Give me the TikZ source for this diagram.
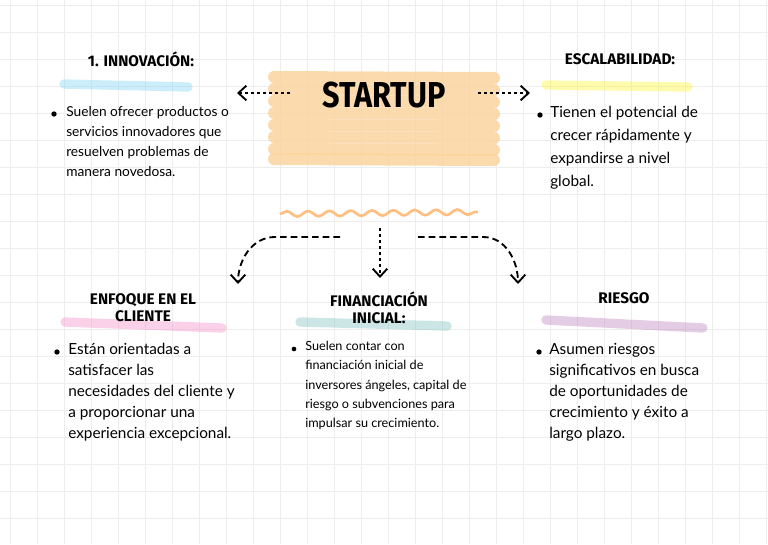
\documentclass[tikz,border=0pt]{standalone}
\usepackage{fontspec}
\setmainfont{Lato}
\newfontfamily\headfont{Fira Sans}
\usetikzlibrary{decorations.pathmorphing,arrows.meta}
\definecolor{brush}{HTML}{FBD39A}
\begin{document}
\begin{tikzpicture}[x=0.75pt,y=-0.75pt,
  head/.style={font=\headfont\bfseries\fontsize{11.5}{13.5}\selectfont,align=center,text=black},
  body/.style={anchor=north west,align=left,inner sep=0pt},
  bul/.style={circle,fill=black,inner sep=0pt,minimum size=4pt},
  hl/.style={line width=7pt,line cap=round,opacity=0.4},
  darr/.style={line width=1.4pt,dash pattern=on 5pt off 3pt,-{Straight Barb[length=6pt,width=11pt,line width=1.4pt]}},
  dotarr/.style={line width=1.4pt,dash pattern=on 2pt off 2.5pt,-{Straight Barb[length=6pt,width=11pt,line width=1.4pt]}}]
\useasboundingbox (0,0) rectangle (768,544);
\fill[white] (0,0) rectangle (768,544);
\foreach \i in {0,...,28} \draw[black!7,line width=0.6pt] (\i*27+10,0) -- (\i*27+10,544);
\foreach \i in {0,...,20} \draw[black!7,line width=0.6pt] (0,\i*27+5) -- (768,\i*27+5);
% startup brush
\foreach \yy in {77,89,101,113,125,137,149,159}
  \draw[brush,opacity=0.8,line width=9pt,line cap=round] (274,\yy) -- (494,\yy+1);
\node[font=\headfont\bfseries\fontsize{30}{34}\selectfont,scale=0.9,xscale=0.85] (st) at (384,95) {STARTUP};
\coordinate (la) at (290,93); \coordinate (lb) at (237,93);
\coordinate (ra) at (478,93); \coordinate (rb) at (530,93);
\draw[dotarr] (la) -- (lb);
\draw[dotarr] (ra) -- (rb);
% squiggle
\draw[orange!50,line width=2pt,decorate,decoration={snake,amplitude=2pt,segment length=16pt}] (280,214) -- (478,212);
\coordinate (m1) at (340,237); \coordinate (m2) at (238,284);
\coordinate (c1) at (380,228); \coordinate (c2) at (380,278);
\coordinate (r1) at (418,237); \coordinate (r2) at (518,284);
\draw[darr] (m1) -- (275,237) to[out=180,in=90] (m2);
\draw[dotarr] (c1) -- (c2);
\draw[darr] (r1) -- (483,237) to[out=0,in=90] (r2);
% highlights
\draw[hl,cyan!50] (64,84) -- (188,87);
\draw[hl,yellow!80] (546,85) -- (688,87);
\draw[hl,magenta!45] (65,322) -- (222,328);
\draw[hl,teal!50] (300,322) -- (447,326);
\draw[hl,violet!50] (546,320) -- (703,328);
% headings
\node[head] (h1) at (141,59) {1. INNOVACIÓN:};
\node[head] (h2) at (620,59) {ESCALABILIDAD:};
\node[head] (h3) at (143,308) {ENFOQUE EN EL\\[-1pt]CLIENTE};
\node[head] (h4) at (379,308) {FINANCIACIÓN\\[-1pt]INICIAL:};
\node[head] (h5) at (624,298) {RIESGO};
% bodies
\node[bul] (b1) at (54,114) {};
\node[body,font=\fontsize{10.3}{15}\selectfont] (t1) at (66,106) {Suelen ofrecer productos o\\servicios innovadores que\\resuelven problemas de\\manera novedosa.};
\node[bul] (b2) at (540,115) {};
\node[body,font=\fontsize{11.5}{17.3}\selectfont] (t2) at (550,106) {Tienen el potencial de\\crecer rápidamente y\\expandirse a nivel\\global.};
\node[bul] (b3) at (57,352) {};
\node[body,font=\fontsize{11.5}{15.8}\selectfont] (t3) at (68,343) {Están orientadas a\\satisfacer las\\necesidades del cliente y\\a proporcionar una\\experiencia excepcional.};
\node[bul,minimum size=3.5pt] (b4) at (294,349) {};
\node[body,font=\fontsize{9.5}{14.5}\selectfont] (t4) at (305,341) {Suelen contar con\\financiación inicial de\\inversores ángeles, capital de\\riesgo o subvenciones para\\impulsar su crecimiento.};
\node[bul] (b5) at (539,352) {};
\node[body,font=\fontsize{11.5}{15.8}\selectfont] (t5) at (549,343) {Asumen riesgos\\significativos en busca\\de oportunidades de\\crecimiento y éxito a\\largo plazo.};
\end{tikzpicture}
\end{document}
